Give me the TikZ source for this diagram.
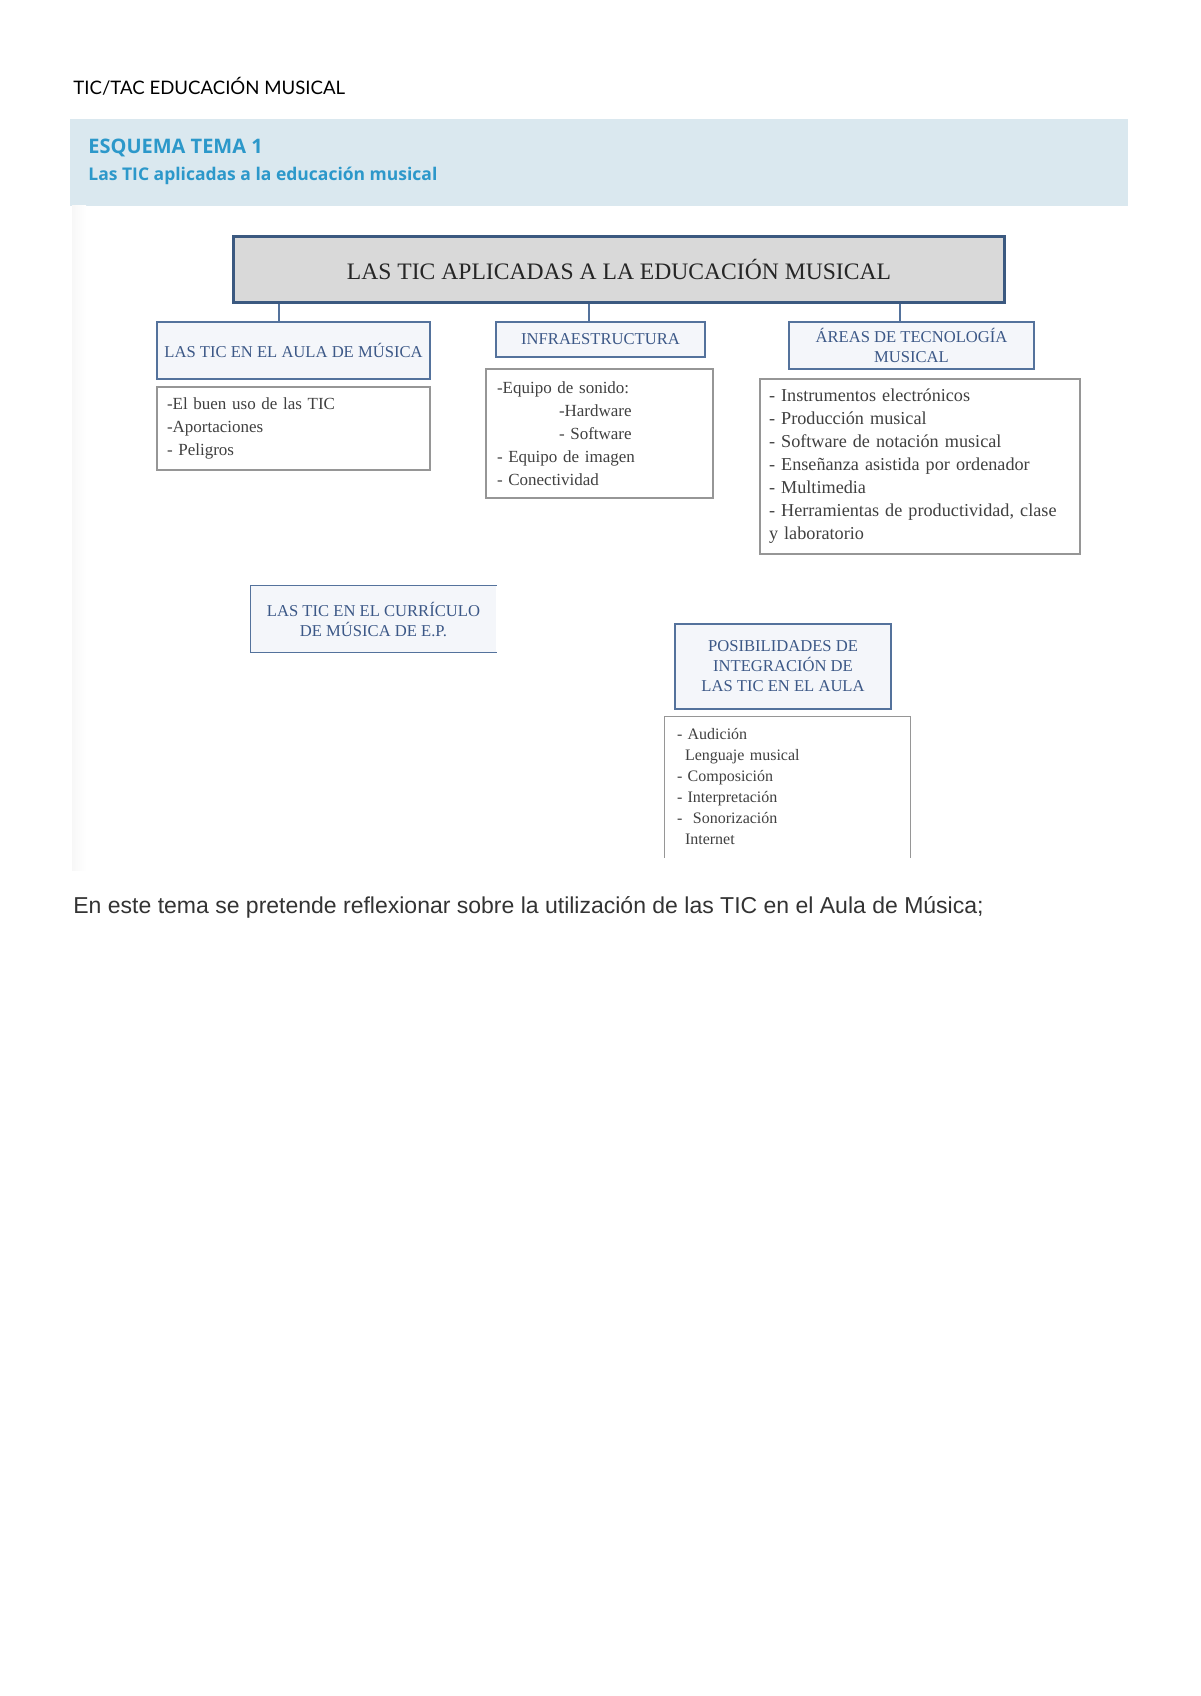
\documentclass[tikz,border=0pt]{standalone}
\usepackage{fontspec}
\setmainfont{Liberation Serif}
\newfontfamily\cabecera{Lato}
\newfontfamily\esquema{Open Sans}
\newfontfamily\cuerpo{Liberation Sans}
\usetikzlibrary{calc}

\definecolor{FondoBanda}{RGB}{218,232,239}
\definecolor{AzulEsquema}{RGB}{44,152,202}
\definecolor{BordeTitulo}{RGB}{59,89,128}
\definecolor{RellenoTitulo}{RGB}{217,217,217}
\definecolor{BordeRama}{RGB}{84,114,156}
\definecolor{RellenoRama}{RGB}{244,246,250}
\definecolor{TextoRama}{RGB}{60,88,135}
\definecolor{BordeLista}{RGB}{150,150,150}
\definecolor{TextoLista}{RGB}{64,64,64}

\tikzset{
  titulo/.style={draw=BordeTitulo, line width=1.5pt, fill=RellenoTitulo, inner sep=0pt,
    minimum width=385.5pt, minimum height=33pt, text=black!85,
    font=\fontsize{11.8}{14}\selectfont},
  rama/.style={draw=BordeRama, line width=0.6pt, fill=RellenoRama, text=TextoRama,
    align=center, inner sep=0pt, font=\fontsize{8.3}{10}\selectfont},
  lista/.style={draw=BordeLista, line width=0.6pt, fill=white, text=TextoLista,
    align=left, inner xsep=5pt, inner ysep=0pt, font=\fontsize{8.5}{11.5}\selectfont},
  conector/.style={draw=BordeRama, line width=0.6pt},
}

\begin{document}
\begin{tikzpicture}[x=0.5pt, y=-0.5pt]

    \fill[white] (0,0) rectangle (1200,1696);
    \useasboundingbox (0,0) rectangle (1200,1696);

    % Cabecera de la página
    \node[anchor=base west, inner sep=0pt, font=\cabecera\fontsize{9.3}{11}\selectfont] (cabecera) at (73,95) {TIC/TAC EDUCACIÓN MUSICAL};
    \fill[FondoBanda] (70,119) rectangle (1128,206);
    \node[anchor=base west, inner sep=0pt, text=AzulEsquema, font=\esquema\bfseries\fontsize{10}{12}\selectfont] (esquema) at (88,154) {ESQUEMA TEMA 1};
    \node[anchor=base west, inner sep=0pt, text=AzulEsquema, font=\esquema\bfseries\fontsize{8.75}{10}\selectfont] (subtitulo) at (88,181) {Las TIC aplicadas a la educación musical};

    % Fondo del esquema
    \fill[left color=black!3, right color=white] (72,206) rectangle (86,870);

    % Caja principal
    \node[titulo] (titulo) at (619,269.5) {LAS TIC APLICADAS A LA EDUCACIÓN MUSICAL};

    % Ramas del primer nivel
    \node[rama, minimum width=136.5pt, minimum height=28.5pt] (rama1) at (293.5,350.5) {LAS TIC EN EL AULA DE MÚSICA};
    \node[rama, minimum width=104.5pt, minimum height=17.5pt] (rama2) at (600.5,339.5) {INFRAESTRUCTURA};
    \node[rama, minimum width=122.5pt, minimum height=23.5pt] (rama3) at (911.5,345.5) {ÁREAS DE TECNOLOGÍA\\MUSICAL};

    % Conectores desde la caja principal
    \coordinate (conA) at (279,0);
    \coordinate (conB) at (589,0);
    \coordinate (conC) at (900,0);
    \draw[conector] (titulo.south -| conA) -- (rama1.north -| conA);
    \draw[conector] (titulo.south -| conB) -- (rama2.north -| conB);
    \draw[conector] (titulo.south -| conC) -- (rama3.north -| conC);

    % Listas de contenidos
    \node[lista, minimum width=136.5pt, minimum height=41.5pt, text width=126.5pt] (lista1) at (293.5,428.5)
        {-El buen uso de las TIC\\-Aportaciones\\- Peligros};
    \node[lista, minimum width=113.5pt, minimum height=64.5pt, text width=102.5pt, inner xsep=5.5pt] (lista2) at (599.5,433.5)
        {-Equipo de sonido:\\\hspace*{31pt}-Hardware\\\hspace*{31pt}- Software\\- Equipo de imagen\\- Conectividad\\[3pt]};
    \node[lista, minimum width=160pt, minimum height=87.5pt, text width=151pt, inner xsep=4.5pt,
        font=\fontsize{9.1}{11.5}\selectfont] (lista3) at (920,466.5)
        {- Instrumentos electrónicos\\- Producción musical\\- Software de notación musical\\- Enseñanza asistida por ordenador\\- Multimedia\\- Herramientas de productividad, clase\\y laboratorio};

    % Ramas del segundo nivel
    \node[rama, draw=none, minimum width=122.5pt, minimum height=33pt] (rama4) at (373.5,619) {LAS TIC EN EL CURRÍCULO\\DE MÚSICA DE E.P.};
    \draw[conector] (rama4.north east) -- (rama4.north west) -- (rama4.south west) -- (rama4.south east);
    \node[rama, minimum width=108pt, minimum height=42.5pt] (rama5) at (783,666.5) {POSIBILIDADES DE\\INTEGRACIÓN DE\\LAS TIC EN EL AULA};

    \node[lista, draw=none, minimum width=122.5pt, minimum height=70pt, text width=110.5pt, inner xsep=6pt,
        font=\fontsize{8}{10.5}\selectfont] (lista5) at (787.5,787)
        {- Audición\\\hspace*{4pt}Lenguaje musical\\- Composición\\- Interpretación\\-\ \ Sonorización\\\hspace*{4pt}Internet};
    \draw[draw=BordeLista, line width=0.6pt] (lista5.south west) -- (lista5.north west) -- (lista5.north east) -- (lista5.south east);

    % Texto que sigue al esquema
    \node[anchor=base west, inner sep=0pt, text=black!80, font=\cuerpo\fontsize{11.5}{13.5}\selectfont] (texto) at (73,913)
        {En este tema se pretende reflexionar sobre la utilización de las TIC en el Aula de Música;};
\end{tikzpicture}
\end{document}
